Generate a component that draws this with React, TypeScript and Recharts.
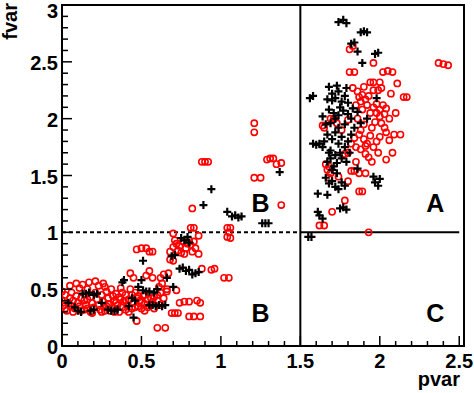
import React from "react";
import {
  ScatterChart,
  Scatter,
  XAxis,
  YAxis,
  ReferenceLine,
  ReferenceArea,
  ReferenceDot,
} from "recharts";

// tick positions (major ones get a label)
const xTicks = [0, 0.1, 0.2, 0.3, 0.4, 0.5, 0.6, 0.7, 0.8, 0.9, 1, 1.1, 1.2, 1.3, 1.4, 1.5, 1.6, 1.7, 1.8, 1.9, 2, 2.1, 2.2, 2.3, 2.4, 2.5];
const xMajor = [0, 0.5, 1, 1.5, 2, 2.5];
const yTicks = [0, 0.1, 0.2, 0.3, 0.4, 0.5, 0.6, 0.7, 0.8, 0.9, 1, 1.1, 1.2, 1.3, 1.4, 1.5, 1.6, 1.7, 1.8, 1.9, 2, 2.1, 2.2, 2.3, 2.4, 2.5, 2.6, 2.7, 2.8, 2.9, 3];
const yMajor = [0, 0.5, 1, 1.5, 2, 2.5, 3];

// red open circles, low-left cluster
const redLow = [
  [0.0, 0.48], [0.0, 0.4], [0.01, 0.36], [0.02, 0.33], [0.04, 0.37], [0.05, 0.53], [0.06, 0.35], [0.07, 0.4],
  [0.08, 0.33], [0.09, 0.55], [0.1, 0.38], [0.11, 0.35], [0.12, 0.31], [0.13, 0.54], [0.14, 0.4], [0.15, 0.36],
  [0.16, 0.33], [0.17, 0.56], [0.18, 0.43], [0.19, 0.38], [0.2, 0.34], [0.21, 0.57], [0.22, 0.41], [0.23, 0.36],
  [0.24, 0.32], [0.25, 0.45], [0.26, 0.39], [0.27, 0.52], [0.28, 0.35], [0.29, 0.42], [0.3, 0.37], [0.31, 0.5],
  [0.32, 0.33], [0.33, 0.4], [0.34, 0.46], [0.35, 0.36], [0.36, 0.43], [0.37, 0.51], [0.38, 0.34], [0.39, 0.39],
  [0.4, 0.45], [0.41, 0.36], [0.42, 0.41], [0.43, 0.64], [0.44, 0.33], [0.45, 0.38], [0.45, 0.6], [0.46, 0.47],
  [0.47, 0.42], [0.47, 0.22], [0.48, 0.35], [0.49, 0.4], [0.5, 0.33], [0.51, 0.44], [0.52, 0.37], [0.53, 0.62],
  [0.54, 0.41], [0.55, 0.66], [0.56, 0.36], [0.57, 0.6], [0.58, 0.43], [0.6, 0.16], [0.61, 0.52], [0.62, 0.47],
  [0.63, 0.55], [0.64, 0.42], [0.65, 0.16], [0.66, 0.5], [0.03, 0.31], [0.12, 0.42], [0.18, 0.3], [0.27, 0.31],
  [0.33, 0.3], [0.4, 0.32], [0.44, 0.45], [0.52, 0.31], [0.57, 0.39],
  [0.02, 0.45], [0.05, 0.42], [0.07, 0.3], [0.09, 0.44], [0.11, 0.51], [0.14, 0.32], [0.16, 0.5], [0.19, 0.29],
  [0.21, 0.47], [0.23, 0.53], [0.25, 0.3], [0.26, 0.55], [0.28, 0.48], [0.3, 0.31], [0.32, 0.44], [0.34, 0.38],
  [0.36, 0.3], [0.38, 0.47], [0.4, 0.4], [0.42, 0.3], [0.43, 0.5], [0.46, 0.34], [0.48, 0.44], [0.5, 0.38],
  [0.52, 0.45], [0.54, 0.34], [0.56, 0.42], [0.58, 0.33], [0.6, 0.4], [0.62, 0.36], [0.06, 0.47], [0.16, 0.41],
  [0.29, 0.37], [0.37, 0.41],
];

// red open circles, middle (region B)
const redMid = [
  [0.47, 0.85], [0.5, 0.86], [0.53, 0.86], [0.55, 0.83], [0.57, 0.83], [0.64, 0.63], [0.67, 0.64], [0.68, 0.76],
  [0.7, 0.75], [0.69, 0.29], [0.71, 0.29], [0.73, 0.29], [0.72, 0.49], [0.68, 0.83], [0.7, 0.87], [0.72, 0.9],
  [0.74, 0.88], [0.76, 0.92], [0.77, 0.81], [0.78, 0.86], [0.8, 0.93], [0.81, 0.89], [0.83, 0.92], [0.82, 0.83],
  [0.86, 0.81], [0.86, 0.97], [0.83, 1.04], [0.81, 1.04], [0.7, 0.99], [0.74, 0.38], [0.77, 0.39], [0.8, 0.39],
  [0.85, 0.4], [0.87, 0.38], [0.8, 0.26], [0.83, 0.26], [0.87, 0.26], [0.88, 0.68], [0.94, 0.67], [0.96, 0.68],
  [1.02, 0.6], [1.05, 0.6], [1.04, 1.04], [1.05, 1.0], [1.06, 1.04], [1.04, 0.96], [1.06, 0.95], [0.82, 1.21],
  [0.88, 1.62], [0.9, 1.62], [0.92, 1.62], [1.21, 1.96], [1.21, 1.88], [1.21, 1.48], [1.25, 1.48], [1.29, 1.64],
  [1.31, 1.65], [1.33, 1.65], [1.35, 1.6], [1.38, 1.61], [1.38, 1.24], [0.6, 0.45], [0.62, 0.6], [0.66, 0.48],
  [0.73, 0.84], [0.75, 0.82], [0.79, 0.9], [0.84, 0.86], [0.71, 0.93],
];

// red open circles, region A
const redHigh = [
  [2.37, 2.49], [2.4, 2.48], [2.43, 2.47], [1.81, 2.61], [1.83, 2.64], [1.96, 2.49], [1.81, 2.41], [1.84, 2.41],
  [2.02, 2.41], [2.05, 2.42], [2.08, 2.41], [2.11, 2.31], [2.15, 2.19], [2.17, 2.19], [1.83, 2.27], [1.94, 2.32],
  [1.96, 2.32], [2.0, 2.32], [1.96, 2.25], [1.99, 2.25], [1.87, 2.19], [1.89, 2.21], [1.91, 2.17], [1.93, 2.2],
  [1.88, 2.15], [1.96, 2.1], [1.98, 2.13], [2.0, 2.08], [2.02, 2.12], [2.04, 2.09], [1.98, 2.05], [2.0, 2.02],
  [2.03, 2.04], [2.06, 2.0], [1.69, 2.0], [1.71, 2.0], [1.64, 1.94], [1.65, 1.92], [1.8, 1.99], [1.86, 2.0],
  [2.03, 1.92], [2.09, 1.86], [2.13, 1.86], [2.06, 1.81], [1.87, 1.86], [1.9, 1.82], [1.92, 1.78], [1.94, 1.85],
  [1.96, 1.75], [1.98, 1.8], [1.88, 1.73], [1.91, 1.76], [2.0, 1.84], [1.99, 1.7], [2.04, 1.64], [1.95, 1.62],
  [1.78, 1.69], [1.8, 1.7], [1.67, 1.55], [1.69, 1.52], [1.82, 1.54], [1.84, 1.54], [1.87, 1.52], [1.91, 1.52],
  [1.74, 1.49], [1.87, 1.36], [1.89, 1.36], [1.78, 1.28], [1.7, 1.18], [1.62, 1.06], [1.65, 1.06], [1.93, 1.0],
  [1.66, 1.6], [1.68, 1.58], [1.85, 1.75], [1.9, 1.95],
  [1.86, 2.24], [1.9, 2.28], [1.92, 2.12], [1.94, 2.05], [1.97, 1.97], [2.01, 1.96], [2.04, 1.88], [1.88, 1.9],
  [1.91, 1.69], [1.93, 1.66], [1.85, 1.62], [1.89, 2.08], [2.07, 2.22], [2.1, 2.05], [1.84, 1.83], [1.82, 1.78],
  [1.95, 1.92], [2.08, 1.7], [1.76, 1.9], [1.73, 1.96], [1.85, 2.12], [2.01, 2.27], [1.68, 1.48], [1.8, 1.45],
];

// black crosses
const blackLow = [
  [0.08, 0.34], [0.1, 0.31], [0.13, 0.46], [0.15, 0.46], [0.17, 0.47], [0.2, 0.45], [0.22, 0.46], [0.12, 0.3],
  [0.18, 0.31], [0.2, 0.32], [0.29, 0.32], [0.31, 0.31], [0.33, 0.31], [0.35, 0.32], [0.38, 0.56], [0.39, 0.58],
  [0.45, 0.25], [0.42, 0.35], [0.46, 0.4], [0.48, 0.52], [0.51, 0.49], [0.53, 0.48], [0.55, 0.48], [0.58, 0.47],
  [0.6, 0.5], [0.55, 0.36], [0.57, 0.36], [0.59, 0.35], [0.61, 0.36], [0.63, 0.35], [0.65, 0.36], [0.51, 0.75],
  [0.5, 0.58], [0.04, 0.38], [0.25, 0.38], [0.44, 0.42],
];

const blackMid = [
  [0.69, 0.79], [0.71, 0.8], [0.74, 0.68], [0.76, 0.69], [0.78, 0.66], [0.8, 0.67], [0.82, 0.63], [0.84, 0.64],
  [0.86, 0.65], [0.75, 0.95], [0.77, 0.93], [0.79, 0.96], [0.8, 0.91], [0.89, 1.24], [0.94, 1.38], [1.04, 1.18],
  [1.07, 1.14], [1.09, 1.15], [1.11, 1.13], [1.13, 1.14], [1.26, 1.08], [1.28, 1.08], [1.3, 1.08], [1.37, 1.53],
  [0.66, 0.6], [0.7, 0.52],
];

const blackHigh = [
  [1.74, 2.85], [1.77, 2.87], [1.79, 2.84], [1.88, 2.76], [1.9, 2.77], [1.92, 2.76], [1.82, 2.66], [1.84, 2.67],
  [1.86, 2.59], [1.97, 2.57], [1.99, 2.58], [1.89, 2.49], [1.56, 2.18], [1.58, 2.2], [1.68, 2.28], [1.73, 2.29],
  [1.7, 2.22], [1.72, 2.18], [1.74, 2.24], [1.76, 2.15], [1.78, 2.2], [1.8, 2.14], [1.75, 2.1], [1.67, 2.17],
  [1.7, 2.16], [1.68, 2.08], [1.71, 2.05], [1.74, 2.03], [1.77, 2.07], [1.8, 2.04], [1.83, 2.09], [1.86, 2.06],
  [1.98, 2.18], [1.67, 1.86], [1.7, 1.82], [1.72, 1.88], [1.74, 1.78], [1.76, 1.84], [1.78, 1.75], [1.8, 1.8],
  [1.82, 1.86], [1.69, 1.72], [1.72, 1.68], [1.75, 1.7], [1.6, 1.77], [1.62, 1.78], [1.64, 1.75], [1.67, 1.62],
  [1.69, 1.65], [1.71, 1.58], [1.73, 1.61], [1.68, 1.43], [1.7, 1.45], [1.72, 1.4], [1.74, 1.38], [1.76, 1.44],
  [1.78, 1.41], [1.96, 1.49], [1.97, 1.44], [1.99, 1.41], [2.0, 1.47], [1.61, 1.34], [1.67, 1.33], [1.75, 1.21],
  [1.77, 1.22], [1.79, 1.2], [1.61, 1.18], [1.62, 1.15], [1.64, 1.12], [1.55, 0.96], [1.57, 0.96], [1.86, 1.56],
  [1.88, 1.96], [1.84, 1.92], [1.78, 1.95], [1.92, 2.0],
  [1.69, 1.96], [1.72, 2.0], [1.66, 1.95], [1.74, 1.92], [1.76, 1.65], [1.79, 1.62], [1.65, 1.8], [1.68, 1.7],
  [1.7, 1.55], [1.73, 1.52], [1.66, 1.48], [1.81, 1.7], [1.82, 2.0], [1.79, 2.27], [1.64, 2.02], [1.58, 1.78],
];

const regionLabels = [
  { text: "A", x: 2.35, y: 1.18 },
  { text: "B", x: 1.25, y: 1.18 },
  { text: "B", x: 1.25, y: 0.21 },
  { text: "C", x: 2.35, y: 0.21 },
];

const toPoints = (arr: number[][]) => arr.map(([x, y]) => ({ x, y }));
const redData = toPoints([...redLow, ...redMid, ...redHigh]);
const blackData = toPoints([...blackLow, ...blackMid, ...blackHigh]);

const FONT = "'Liberation Sans', Arial, sans-serif";

const RedCircle = (p: any) => (
  <circle cx={p.cx} cy={p.cy} r={3.1} fill="none" stroke="#ff0000" strokeWidth={1.6} />
);

const BlackPlus = (p: any) => (
  <path
    d={`M${p.cx - 4},${p.cy}H${p.cx + 4}M${p.cx},${p.cy - 4}V${p.cy + 4}`}
    stroke="#000"
    strokeWidth={2.2}
  />
);

const XTick = (props: any) => {
  const { x, y, payload } = props;
  const major = xMajor.includes(payload.value);
  return (
    <g>
      <line x1={x} x2={x} y1={y} y2={y - (major ? 10 : 5)} stroke="#000" strokeWidth={1.5} />
      {major && (
        <text x={x} y={y + 22} textAnchor="middle" fontFamily={FONT} fontWeight="bold" fontSize={20} fill="#000">
          {payload.value}
        </text>
      )}
    </g>
  );
};

const YTick = (props: any) => {
  const { x, y, payload } = props;
  const major = yMajor.includes(payload.value);
  // the top label sits a little lower so it stays inside the picture
  const dy = payload.value === 3 ? 13 : 8;
  return (
    <g>
      <line x1={x} x2={x + (major ? 10 : 6)} y1={y} y2={y} stroke="#000" strokeWidth={1.5} />
      {major && (
        <text x={x - 4} y={y + dy} textAnchor="end" fontFamily={FONT} fontWeight="bold" fontSize={20} fill="#000">
          {payload.value}
        </text>
      )}
    </g>
  );
};

export default function App() {
  return (
    <div style={{ width: 474, height: 393, position: "relative", background: "#fff" }}>
      <style>{"body{margin:0}"}</style>
      <ScatterChart width={474} height={393} margin={{ top: 5, right: 10, bottom: 0, left: 0 }}>
        <XAxis
          type="number"
          dataKey="x"
          domain={[0, 2.53]}
          ticks={xTicks}
          interval={0}
          tick={<XTick />}
          tickLine={false}
          tickSize={0}
          tickMargin={0}
          axisLine={false}
          height={47}
          allowDataOverflow
        />
        <YAxis
          type="number"
          dataKey="y"
          domain={[0, 3]}
          ticks={yTicks}
          interval={0}
          tick={<YTick />}
          tickLine={false}
          tickSize={0}
          tickMargin={0}
          axisLine={false}
          width={62}
          allowDataOverflow
        />
        <Scatter data={redData} shape={RedCircle} isAnimationActive={false} />
        <Scatter data={blackData} shape={BlackPlus} isAnimationActive={false} />
        <ReferenceLine x={1.5} stroke="#000" strokeWidth={2} />
        <ReferenceLine segment={[{ x: 0, y: 1 }, { x: 1.5, y: 1 }]} stroke="#000" strokeWidth={2} strokeDasharray="4 3" />
        <ReferenceLine segment={[{ x: 1.5, y: 1 }, { x: 2.5, y: 1 }]} stroke="#000" strokeWidth={2} />
        <ReferenceArea x1={0} x2={2.53} y1={0} y2={3} fill="none" fillOpacity={0} stroke="#000" strokeWidth={2} />
        {regionLabels.map((l, i) => (
          <ReferenceDot
            key={i}
            x={l.x}
            y={l.y}
            r={0}
            shape={(p: any) => (
              <text x={p.cx} y={p.cy} textAnchor="middle" fontFamily={FONT} fontWeight="bold" fontSize={25} fill="#000">
                {l.text}
              </text>
            )}
          />
        ))}
      </ScatterChart>
      <svg width={474} height={393} style={{ position: "absolute", left: 0, top: 0, pointerEvents: "none" }}>
        <text x={460} y={386} textAnchor="end" fontFamily={FONT} fontWeight="bold" fontSize={20} fill="#000">
          pvar
        </text>
        <text
          transform="translate(17,3) rotate(-90)"
          textAnchor="end"
          fontFamily={FONT}
          fontWeight="bold"
          fontSize={20}
          fill="#000"
        >
          fvar
        </text>
      </svg>
    </div>
  );
}
